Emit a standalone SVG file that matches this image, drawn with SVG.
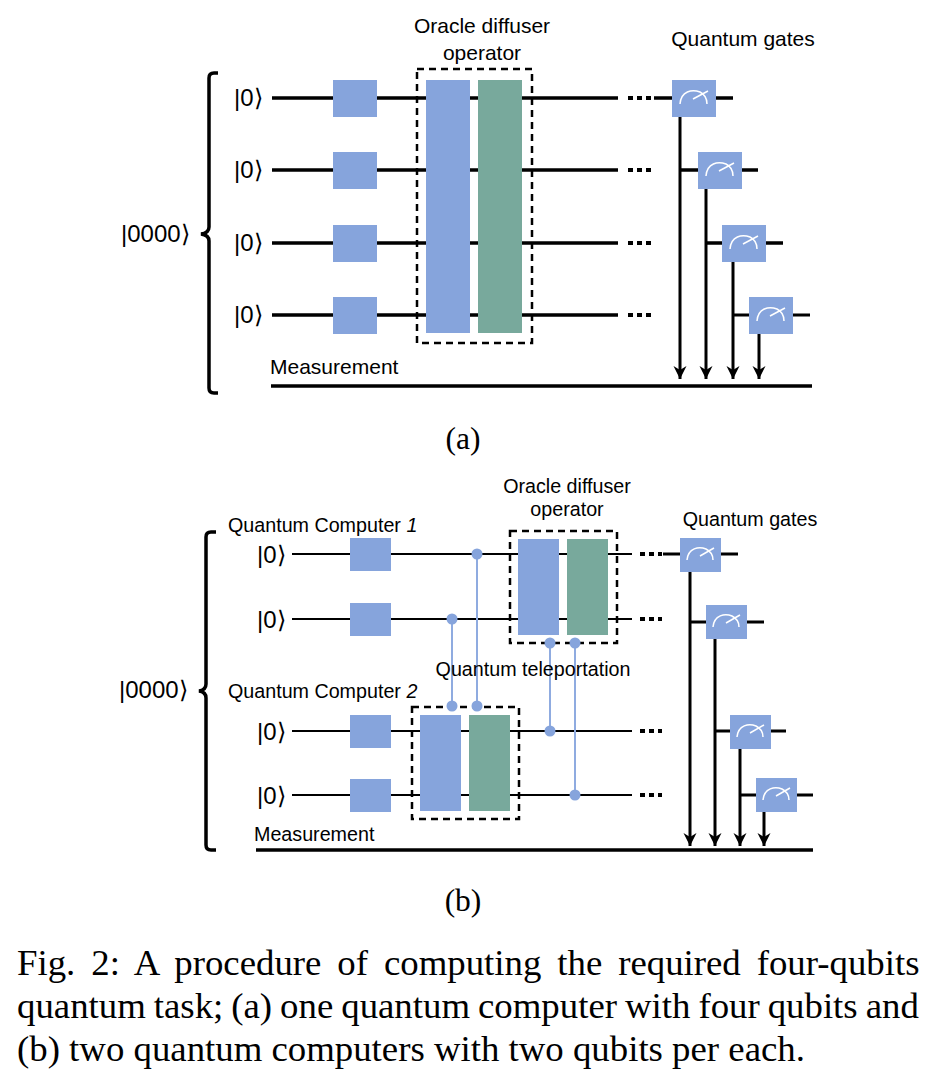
<svg xmlns="http://www.w3.org/2000/svg" width="934" height="1084" viewBox="0 0 934 1084">
<defs>
<marker id="arrow" markerUnits="userSpaceOnUse" markerWidth="14" markerHeight="14" refX="13" refY="6.5" orient="auto" viewBox="0 0 14 14"><path d="M0 0 L13 6.5 L0 13 L4 6.5 Z" fill="#000"/></marker>
<g id="meter"><rect x="0" y="0" width="44" height="37" fill="#86a4dc"/><path d="M8 24 C9 11 20 9 28 12 C32 14 35 18 35 24 M21 19 L36 11" fill="none" stroke="#fff" stroke-width="1.5"/></g>
<g id="meter2"><rect x="0" y="0" width="41" height="34" fill="#86a4dc"/><path d="M7 22 C8 10 19 8 26 11 C30 13 33 17 33 22 M20 18 L34 10" fill="none" stroke="#fff" stroke-width="1.5"/></g>
</defs>
<style>
text{font-family:"Liberation Sans",Arial,sans-serif;fill:#000}
.k{font-size:24px}
.m{font-size:21px}
.n{font-size:19.7px}
.s{font-family:"Liberation Serif","Times New Roman",serif;font-size:36.8px}
.w{stroke:#000;stroke-width:3.5;fill:none}
.t{stroke:#000;stroke-width:2;fill:none}
.v{stroke:#000;stroke-width:3;fill:none}
.b{fill:#86a4dc}
.g{fill:#78a99c}
.d{fill:none;stroke:#000;stroke-width:2.5;stroke-dasharray:7 5}
.q{stroke:#8fabe0;stroke-width:2;fill:none}
.o{fill:#86a4dc}
.dots{stroke:#000;stroke-width:4;stroke-dasharray:5 4;fill:none}
</style>
<rect width="934" height="1084" fill="#fff"/>

<g id="connectors">
<path class="w" d="M272 98H618M272 170H618M272 243H618M272 315H618"/>
<path class="dots" d="M628 98H651M628 170H651M628 243H651M628 315H651"/>
<path class="w" d="M654 98H733M680 170H758M706 243H783"/>
<path class="v" d="M733 315H810"/>
<path class="w" d="M271 386H812"/>
<path class="v" d="M680 116V379" marker-end="url(#arrow)"/>
<path class="v" d="M706 188V379" marker-end="url(#arrow)"/>
<path class="v" d="M733 261V379" marker-end="url(#arrow)"/>
<path class="v" d="M759 333V379" marker-end="url(#arrow)"/>

<path class="t" d="M292 554H632M292 619H632M292 731H632M292 795H632"/>
<path class="dots" d="M640 554H662M640 619H662M640 731H662M640 795H662"/>
<path class="v" d="M663 554H738M690 622H764M715 731H786M740 795H813"/>
<path class="w" d="M256 850H813"/>
<path class="v" d="M690 571V846" marker-end="url(#arrow)"/>
<path class="v" d="M715 637V846" marker-end="url(#arrow)"/>
<path class="v" d="M740 747V846" marker-end="url(#arrow)"/>
<path class="v" d="M764 811V846" marker-end="url(#arrow)"/>

<path class="q" d="M477 554V706M452 619V706M550 643V731M575 643V795"/>
<circle class="o" cx="477" cy="554" r="5.5"/><circle class="o" cx="452" cy="619" r="5.5"/>
<circle class="o" cx="550" cy="731" r="5.5"/><circle class="o" cx="575" cy="795" r="5.5"/>
</g>

<g id="brace-a"><path class="w" fill="none" d="M218 73H214Q209 73 209 78V227Q209 233 201 234Q209 235 209 241V388Q209 393 214 393H218"/></g>
<g id="brace-b"><path class="w" fill="none" d="M216 532H211Q206 532 206 537V684Q206 690 199 691Q206 692 206 698V845Q206 850 211 850H216"/></g>

<g id="labels-a">
<text class="k" x="121" y="242">|0000⟩</text>
<text class="k" x="234" y="106">|0⟩</text><text class="k" x="234" y="178">|0⟩</text><text class="k" x="234" y="251">|0⟩</text><text class="k" x="234" y="323">|0⟩</text>
<text class="m" x="482" y="33" text-anchor="middle">Oracle diffuser</text>
<text class="m" x="482" y="60" text-anchor="middle">operator</text>
<text class="m" x="743" y="46" text-anchor="middle">Quantum gates</text>
<text class="m" x="270" y="374">Measurement</text>
</g>
<g id="h-gates-a">
<rect class="b" x="333" y="80" width="44" height="37"/><rect class="b" x="333" y="152" width="44" height="37"/><rect class="b" x="333" y="225" width="44" height="37"/><rect class="b" x="333" y="297" width="44" height="37"/>
</g>
<g id="oracle-a"><rect class="d" x="417" y="69" width="115" height="274"/><rect class="b" x="426" y="80" width="44" height="253"/><rect class="g" x="478" y="80" width="44" height="253"/></g>
<g id="meters-a">
<use href="#meter" x="672" y="80"/><use href="#meter" x="698" y="152"/><use href="#meter" x="722" y="225"/><use href="#meter" x="749" y="297"/>
</g>

<g id="labels-b">
<text class="k" x="119" y="698">|0000⟩</text>
<text class="k" x="257" y="563">|0⟩</text><text class="k" x="257" y="628">|0⟩</text><text class="k" x="257" y="740">|0⟩</text><text class="k" x="257" y="804">|0⟩</text>
<text class="n" x="228" y="532">Quantum Computer <tspan font-style="italic">1</tspan></text>
<text class="n" x="228" y="698">Quantum Computer <tspan font-style="italic">2</tspan></text>
<text class="n" x="567" y="493" text-anchor="middle">Oracle diffuser</text>
<text class="n" x="567" y="516" text-anchor="middle">operator</text>
<text class="n" x="750" y="526" text-anchor="middle">Quantum gates</text>
<text class="n" x="533" y="676" text-anchor="middle">Quantum teleportation</text>
<text class="n" x="254" y="841">Measurement</text>
</g>
<g id="h-gates-b">
<rect class="b" x="350" y="538" width="41" height="33"/><rect class="b" x="350" y="603" width="41" height="33"/><rect class="b" x="350" y="715" width="41" height="33"/><rect class="b" x="350" y="779" width="41" height="33"/>
</g>
<g id="oracle-b1"><rect class="d" x="510" y="531" width="107" height="112"/><rect class="b" x="518" y="539" width="41" height="96"/><rect class="g" x="567" y="539" width="41" height="96"/><circle class="o" cx="550" cy="643" r="5.5"/><circle class="o" cx="575" cy="643" r="5.5"/></g>
<g id="oracle-b2"><rect class="d" x="412" y="707" width="107" height="112"/><rect class="b" x="420" y="715" width="41" height="96"/><rect class="g" x="469" y="715" width="41" height="96"/><circle class="o" cx="452" cy="706" r="5.5"/><circle class="o" cx="477" cy="706" r="5.5"/></g>
<g id="meters-b">
<use href="#meter2" x="680" y="538"/><use href="#meter2" x="706" y="605"/><use href="#meter2" x="730" y="715"/><use href="#meter2" x="756" y="778"/>
</g>

<g id="captions">
<text class="s" x="463" y="449" text-anchor="middle" style="font-size:31.5px">(a)</text>
<text class="s" x="463" y="911" text-anchor="middle" style="font-size:31.5px">(b)</text>
<text class="s" x="17" y="975" word-spacing="6.75">Fig. 2: A procedure of computing the required four-qubits</text>
<text class="s" x="17" y="1018" word-spacing="-1.2">quantum task; (a) one quantum computer with four qubits and</text>
<text class="s" x="17" y="1061">(b) two quantum computers with two qubits per each.</text>
</g>
</svg>
